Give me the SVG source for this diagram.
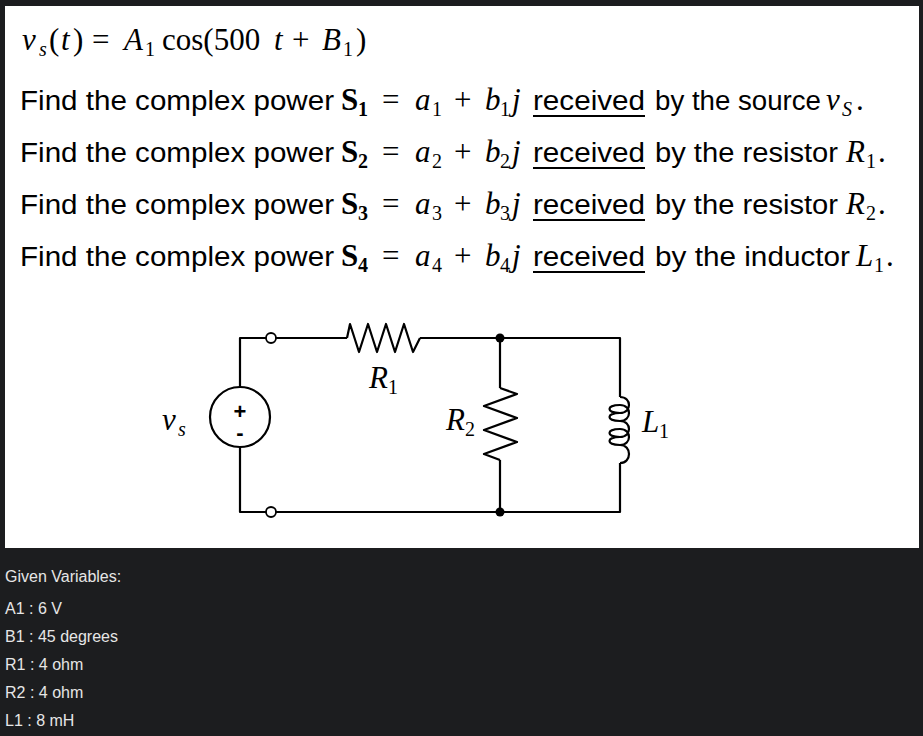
<svg xmlns="http://www.w3.org/2000/svg" width="923" height="736" viewBox="0 0 923 736">
<style>
.s{font-family:"Liberation Sans",Arial,sans-serif;font-size:27px;fill:#000}
.m{font-family:"Liberation Serif","Times New Roman",serif;font-size:31px;fill:#000}
.i{font-style:italic}
.b{font-weight:bold}
.u{font-size:20px}
.g{font-family:"Liberation Sans",Arial,sans-serif;font-size:16px;fill:#e6e6e6}
.w{fill:none;stroke:#000;stroke-width:2.2;stroke-linejoin:round}
</style>
<rect width="923" height="736" fill="#1c1d1f"/>
<rect x="5" y="6" width="914" height="542" fill="#fff"/>
<g id="equation">
<text class="m" y="50" font-size="33"><tspan class="i" x="22">v</tspan><tspan class="i u" x="39" y="56">s</tspan><tspan x="49" y="50">(</tspan><tspan class="i" x="61">t</tspan><tspan x="73">)</tspan><tspan x="92">=</tspan><tspan class="i" x="124">A</tspan><tspan class="u" x="145" y="56">1</tspan><tspan x="162" y="50">cos(500</tspan><tspan class="i" x="274">t</tspan><tspan x="292">+</tspan><tspan class="i" x="322">B</tspan><tspan class="u" x="343" y="56">1</tspan><tspan x="356" y="50">)</tspan></text>
</g>
<g id="questions">
<text class="s" x="20" y="110" textLength="314" lengthAdjust="spacingAndGlyphs">Find the complex power</text>
<text class="m" y="110"><tspan class="b" x="341">S</tspan><tspan class="b u" x="358" y="116">1</tspan><tspan x="382" y="110">=</tspan><tspan class="i" x="415">a</tspan><tspan class="u" x="432" y="116">1</tspan><tspan x="454" y="110">+</tspan><tspan class="i" x="485">b</tspan><tspan class="u" x="500" y="116">1</tspan><tspan class="i" x="512" y="110">j</tspan></text>
<text class="s" x="533" y="110" textLength="112" lengthAdjust="spacingAndGlyphs">received</text>
<line x1="533" y1="116" x2="645" y2="116" stroke="#000" stroke-width="2"/>
<text class="s" x="655" y="110" textLength="166" lengthAdjust="spacingAndGlyphs">by the source</text>
<text class="m" y="110"><tspan class="i" x="826">v</tspan><tspan class="i u" x="842" y="116">S</tspan><tspan x="856" y="110">.</tspan></text>

<text class="s" x="20" y="162" textLength="314" lengthAdjust="spacingAndGlyphs">Find the complex power</text>
<text class="m" y="162"><tspan class="b" x="341">S</tspan><tspan class="b u" x="358" y="168">2</tspan><tspan x="382" y="162">=</tspan><tspan class="i" x="415">a</tspan><tspan class="u" x="432" y="168">2</tspan><tspan x="454" y="162">+</tspan><tspan class="i" x="485">b</tspan><tspan class="u" x="500" y="168">2</tspan><tspan class="i" x="512" y="162">j</tspan></text>
<text class="s" x="533" y="162" textLength="112" lengthAdjust="spacingAndGlyphs">received</text>
<line x1="533" y1="168" x2="645" y2="168" stroke="#000" stroke-width="2"/>
<text class="s" x="655" y="162" textLength="183" lengthAdjust="spacingAndGlyphs">by the resistor</text>
<text class="m" y="162"><tspan class="i" x="846">R</tspan><tspan class="u" x="866" y="168">1</tspan><tspan x="878" y="162">.</tspan></text>

<text class="s" x="20" y="214" textLength="314" lengthAdjust="spacingAndGlyphs">Find the complex power</text>
<text class="m" y="214"><tspan class="b" x="341">S</tspan><tspan class="b u" x="358" y="220">3</tspan><tspan x="382" y="214">=</tspan><tspan class="i" x="415">a</tspan><tspan class="u" x="432" y="220">3</tspan><tspan x="454" y="214">+</tspan><tspan class="i" x="485">b</tspan><tspan class="u" x="500" y="220">3</tspan><tspan class="i" x="512" y="214">j</tspan></text>
<text class="s" x="533" y="214" textLength="112" lengthAdjust="spacingAndGlyphs">received</text>
<line x1="533" y1="220" x2="645" y2="220" stroke="#000" stroke-width="2"/>
<text class="s" x="655" y="214" textLength="183" lengthAdjust="spacingAndGlyphs">by the resistor</text>
<text class="m" y="214"><tspan class="i" x="846">R</tspan><tspan class="u" x="866" y="220">2</tspan><tspan x="878" y="214">.</tspan></text>

<text class="s" x="20" y="266" textLength="314" lengthAdjust="spacingAndGlyphs">Find the complex power</text>
<text class="m" y="266"><tspan class="b" x="341">S</tspan><tspan class="b u" x="358" y="272">4</tspan><tspan x="382" y="266">=</tspan><tspan class="i" x="415">a</tspan><tspan class="u" x="432" y="272">4</tspan><tspan x="454" y="266">+</tspan><tspan class="i" x="485">b</tspan><tspan class="u" x="500" y="272">4</tspan><tspan class="i" x="512" y="266">j</tspan></text>
<text class="s" x="533" y="266" textLength="112" lengthAdjust="spacingAndGlyphs">received</text>
<line x1="533" y1="272" x2="645" y2="272" stroke="#000" stroke-width="2"/>
<text class="s" x="655" y="266" textLength="195" lengthAdjust="spacingAndGlyphs">by the inductor</text>
<text class="m" y="266"><tspan class="i" x="856">L</tspan><tspan class="u" x="874" y="272">1</tspan><tspan x="886" y="266">.</tspan></text>
</g>
<g id="connectors">
<path class="w" d="M240 387 V338 H266 M276 338 H347 M420 338 H620 V397 M620 463 V512 H276 M266 512 H240 V447"/>
<path class="w" d="M500 338 V388 M500 460 V512"/>
</g>
<g id="source">
<circle cx="240" cy="417" r="30" fill="#fff" stroke="#000" stroke-width="2.2"/>
<text x="240" y="419" text-anchor="middle" font-family="Liberation Sans,Arial,sans-serif" font-size="22" font-weight="bold">+</text>
<text x="240" y="440" text-anchor="middle" font-family="Liberation Sans,Arial,sans-serif" font-size="22" font-weight="bold">-</text>
<text class="m" y="430" font-size="30"><tspan class="i" x="162">v</tspan><tspan class="i u" x="178" y="436">s</tspan></text>
</g>
<g id="terminals">
<circle cx="271" cy="338" r="5" fill="#fff" stroke="#000" stroke-width="1.8"/>
<circle cx="271" cy="512" r="5" fill="#fff" stroke="#000" stroke-width="1.8"/>
<circle cx="500" cy="338" r="4.5" fill="#000"/>
<circle cx="500" cy="512" r="4.5" fill="#000"/>
</g>
<g id="R1">
<path class="w" d="M347 338 L350 324 L359 352 L368 324 L377 352 L386 324 L395 352 L404 324 L413 352 L420 338"/>
<text class="m" y="388" font-size="30"><tspan class="i" x="369">R</tspan><tspan class="u" x="388" y="394">1</tspan></text>
</g>
<g id="R2">
<path class="w" d="M500 388 L517 394 L484 406 L517 418 L484 430 L517 442 L484 454 L500 460"/>
<text class="m" y="430" font-size="30"><tspan class="i" x="446">R</tspan><tspan class="u" x="465" y="436">2</tspan></text>
</g>
<g id="L1">
<path class="w" d="M620 397 C632 397 632 413 620 413 C606 413 606 405 620 405 C632 405 632 421 620 421 C606 421 606 413 620 413 M620 421 C632 421 632 437 620 437 C606 437 606 429 620 429 C632 429 632 445 620 445 C606 445 606 437 620 437 M620 445 C632 445 632 463 620 463"/>
<text class="m" y="432" font-size="30"><tspan class="i" x="642">L</tspan><tspan class="u" x="659" y="438">1</tspan></text>
</g>
<g id="given">
<text class="g" x="5" y="582">Given Variables:</text>
<text class="g" x="5" y="614">A1 : 6 V</text>
<text class="g" x="5" y="642">B1 : 45 degrees</text>
<text class="g" x="5" y="670">R1 : 4 ohm</text>
<text class="g" x="5" y="698">R2 : 4 ohm</text>
<text class="g" x="5" y="726">L1 : 8 mH</text>
</g>
</svg>
